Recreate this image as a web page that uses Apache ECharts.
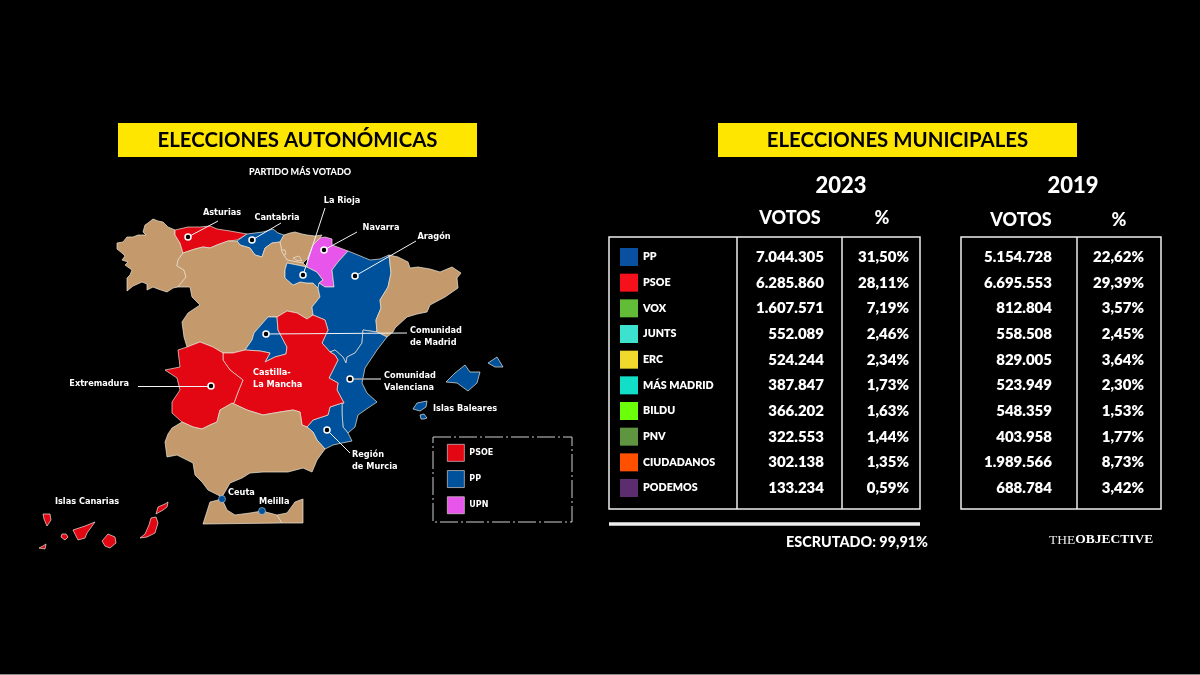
<!DOCTYPE html>
<html>
<head>
<meta charset="utf-8">
<title>Elecciones</title>
<style>html,body{margin:0;background:#000}#chart{width:1200px;height:675px}</style>
<script src="https://cdn.jsdelivr.net/npm/echarts@6/dist/echarts.min.js"></script>
</head>
<body>
<div id="chart"></div>
<script>
// tabla de resultados
const parties = ['PP', 'PSOE', 'VOX', 'JUNTS', 'ERC', 'MÁS MADRID', 'BILDU', 'PNV', 'CIUDADANOS', 'PODEMOS']
const partyColors = ['#0a50a0', '#f5101c', '#63bc37', '#3de2cf', '#f0d92c', '#12dfc8', '#6cff0a', '#5f9440', '#ff5000', '#5c2d6e']
const votes2023 = [7044305, 6285860, 1607571, 552089, 524244, 387847, 366202, 322553, 302138, 133234]
const pct2023 = [31.50, 28.11, 7.19, 2.46, 2.34, 1.73, 1.63, 1.44, 1.35, 0.59]
const votes2019 = [5154728, 6695553, 812804, 558508, 829005, 523949, 548359, 403958, 1989566, 688784]
const pct2019 = [22.62, 29.39, 3.57, 2.45, 3.64, 2.30, 1.53, 1.77, 8.73, 3.42]

// mapa: partido mas votado por territorio
const mapParties = ['PSOE', 'PP', 'UPN']
const mapColors = { PSOE: '#e30613', PP: '#00519b', UPN: '#e755eb', none: '#c49a6c' }

const galicia = [[175,230],[168,227],[163,222],[158,221],[153,219],[148,223],[145,225],[143,232],[146,235],[138,235],[133,237],[127,237],[123,242],[117,243],[117,249],[122,253],[125,256],[122,260],[128,262],[125,265],[132,270],[130,275],[127,278],[127,291],[133,286],[142,282],[147,284],[147,290],[153,287],[158,289],[167,292],[173,288],[178,287],[182,282],[186,277],[184,270],[177,266],[178,260],[183,253],[180,243],[175,235]]
const asturias = [[175,230],[188,227],[200,227],[210,226],[217,229],[230,231],[247,234],[237,240],[228,241],[217,245],[210,248],[203,247],[195,249],[183,253],[180,243],[175,235]]
const cantabria = [[247,234],[255,233],[263,232],[273,229],[278,233],[284,235],[280,242],[272,243],[265,248],[262,257],[255,255],[250,248],[240,245],[237,241]]
const paisVasco = [[284,235],[290,233],[295,232],[302,234],[307,235],[315,236],[322,235],[320,238],[313,245],[308,258],[303,263],[297,262],[287,260],[282,252],[280,242]]
const trevino = [[293,258],[299,256],[302,261],[296,260]]
const villaverde = [[281,250],[285,250],[286,254],[283,255]]
const castillaLeon = [[183,253],[195,249],[203,247],[210,248],[217,245],[228,241],[237,241],[240,245],[250,248],[255,255],[262,257],[265,248],[272,243],[280,242],[282,252],[287,260],[297,262],[303,263],[307,267],[297,265],[287,263],[285,270],[285,278],[293,285],[300,282],[307,283],[313,283],[318,288],[320,297],[312,307],[313,315],[307,319],[297,313],[287,311],[277,317],[268,317],[254,333],[252,340],[245,350],[233,353],[223,353],[213,347],[200,342],[187,347],[184,337],[182,322],[188,313],[200,305],[192,297],[190,287],[178,287],[182,282],[186,277],[184,270],[177,266],[178,260]]
const rioja = [[287,263],[297,265],[307,267],[317,272],[323,280],[319,283],[318,288],[313,283],[307,283],[300,282],[293,285],[285,278],[285,270]]
const navarra = [[325,237],[332,239],[332,245],[348,251],[338,262],[332,270],[334,287],[325,287],[319,283],[323,280],[317,272],[307,267],[308,258],[313,245],[320,238]]
const aragon = [[348,251],[358,255],[370,260],[380,259],[389,255],[391,273],[388,287],[380,300],[381,308],[376,320],[377,332],[363,330],[362,343],[355,353],[347,357],[346,363],[343,357],[335,350],[330,352],[322,343],[328,330],[325,320],[313,315],[312,307],[320,297],[318,288],[319,283],[325,287],[334,287],[332,270],[338,262]]
const cataluna = [[389,255],[398,257],[408,262],[410,268],[418,267],[430,269],[440,272],[452,267],[461,273],[457,278],[458,288],[445,297],[430,305],[427,312],[417,314],[407,317],[395,328],[393,332],[387,337],[377,332],[376,320],[381,308],[380,300],[388,287],[391,273]]
const valencia = [[377,332],[387,337],[377,350],[371,359],[365,368],[362,383],[367,393],[377,402],[368,408],[358,415],[355,427],[348,433],[343,427],[342,413],[342,403],[344,403],[337,390],[338,383],[329,378],[333,370],[338,360],[335,355],[330,352],[335,350],[343,357],[346,363],[347,357],[355,353],[362,343],[363,330]]
const murcia = [[307,427],[313,420],[328,415],[330,407],[342,403],[342,413],[343,427],[348,433],[352,441],[342,443],[333,445],[325,449],[317,440],[313,432]]
const madrid = [[268,317],[277,317],[278,330],[287,347],[286,354],[275,357],[265,362],[270,353],[260,351],[245,350],[252,340],[254,333]]
const castillaMancha = [[277,317],[287,311],[297,313],[307,319],[313,315],[325,320],[328,330],[322,343],[330,352],[335,355],[338,360],[333,370],[329,378],[338,383],[337,390],[344,403],[342,403],[330,407],[328,415],[313,420],[307,427],[302,425],[300,412],[293,410],[280,412],[263,415],[247,410],[232,403],[234,403],[238,392],[243,380],[230,370],[223,360],[223,353],[233,353],[245,350],[260,351],[270,353],[265,362],[275,357],[286,354],[287,347],[278,330]]
const extremadura = [[178,350],[187,347],[200,342],[213,347],[223,353],[223,360],[230,370],[243,380],[238,392],[234,403],[220,410],[217,422],[210,425],[202,429],[193,427],[182,422],[172,413],[172,402],[180,390],[177,378],[165,370],[180,367]]
const andalucia = [[165,442],[168,434],[172,428],[182,422],[193,427],[202,429],[210,425],[217,422],[220,410],[232,403],[247,410],[263,415],[280,412],[293,410],[300,412],[302,425],[307,427],[313,432],[317,440],[325,449],[317,460],[312,472],[303,468],[288,472],[263,472],[250,473],[242,478],[230,483],[222,497],[208,490],[202,482],[195,475],[193,463],[177,455],[167,457]]
const marruecos = [[203,524],[210,502],[222,499],[227,510],[235,515],[250,513],[262,511],[277,515],[282,523]]
const argelia = [[277,515],[287,513],[295,502],[303,499],[303,523],[282,523]]
const mallorca = [[465,365],[470,372],[480,372],[477,383],[468,391],[457,383],[446,382],[455,373]]
const menorca = [[488,363],[497,357],[503,367],[495,367]]
const ibiza = [[413,409],[417,403],[427,401],[426,407],[420,411]]
const formentera = [[420,415],[424,414],[427,418],[424,419],[421,419]]
const lanzarote = [[168,502],[167,507],[163,510],[156,514],[158,507],[165,504]]
const fuerteventura = [[156,517],[158,523],[155,533],[147,537],[140,538],[145,534],[149,525],[151,518]]
const granCanaria = [[108,534],[115,537],[116,543],[110,548],[105,546],[102,541]]
const tenerife = [[95,522],[85,526],[73,530],[78,540],[85,538],[87,533]]
const gomera = [[62,534],[66,534],[68,537],[65,540],[61,537]]
const laPalma = [[43,514],[50,514],[51,520],[47,526],[44,519]]
const hierro = [[46,544],[45,549],[39,548],[43,546]]

const regionShapes = [
    ['Galicia', 'none', galicia], ['Asturias', 'PSOE', asturias], ['Cantabria', 'PP', cantabria],
    ['País Vasco', 'none', paisVasco], ['Treviño', 'none', trevino], ['Villaverde', 'none', villaverde], ['Castilla y León', 'none', castillaLeon],
    ['La Rioja', 'PP', rioja], ['Navarra', 'UPN', navarra], ['Aragón', 'PP', aragon], ['Cataluña', 'none', cataluna],
    ['Valencia', 'PP', valencia], ['Murcia', 'PP', murcia], ['Madrid', 'PP', madrid],
    ['Castilla-La Mancha', 'PSOE', castillaMancha], ['Extremadura', 'PSOE', extremadura], ['Andalucía', 'none', andalucia],
    ['Marruecos', 'none', marruecos], ['Argelia', 'none', argelia],
    ['Mallorca', 'PP', mallorca], ['Menorca', 'PP', menorca], ['Ibiza', 'PP', ibiza], ['Formentera', 'PP', formentera],
    ['Lanzarote', 'PSOE', lanzarote], ['Fuerteventura', 'PSOE', fuerteventura], ['Gran Canaria', 'PSOE', granCanaria],
    ['Tenerife', 'PSOE', tenerife], ['La Gomera', 'PSOE', gomera], ['La Palma', 'PSOE', laPalma], ['El Hierro', 'PSOE', hierro]
]

// rotulos del mapa: texto, ancla, alineacion
const mapLabels = [
    ['Asturias', 222, 213, 'center'], ['Cantabria', 277, 218, 'center'], ['La Rioja', 342, 201, 'center'],
    ['Navarra', 381, 228, 'center'], ['Aragón', 434, 237, 'center'], ['Comunidad\nde Madrid', 410, 337, 'left'],
    ['Extremadura', 129, 384, 'right'], ['Comunidad\nValenciana', 384, 382, 'left'], ['Región\nde Murcia', 352, 461, 'left'],
    ['Islas Baleares', 433, 409, 'left'], ['Islas Canarias', 87, 502, 'center'], ['Ceuta', 228, 493, 'left'],
    ['Melilla', 259, 502, 'left'], ['Castilla-\nLa Mancha', 253, 379, 'left']
]
const leaderDots = [[188,237],[252,240],[303,275],[324,250],[355,276],[266,334],[211,386],[350,379],[327,430]]
const leaderEnds = [[218,221],[281,223],[325,208],[357,232],[416,241],[407,333],[138,386],[381,379],[350,453]]
const cityDots = [[222,499],[262,511]]

const bounds = regionShapes.reduce((b, r) => {
    r[2].forEach(p => {
        b.x0 = Math.min(b.x0, p[0]); b.x1 = Math.max(b.x1, p[0])
        b.y0 = Math.min(b.y0, p[1]); b.y1 = Math.max(b.y1, p[1])
    })
    return b
}, { x0: 9999, x1: 0, y0: 9999, y1: 0 })

echarts.registerMap('espana', {
    type: 'FeatureCollection',
    features: regionShapes.map(r => ({
        type: 'Feature',
        properties: { name: r[0] },
        geometry: { type: 'Polygon', coordinates: [r[2].concat([r[2][0]])] }
    }))
})

const FONT = 'Lato'
const LABEL_FONT = 'DejaVu Sans'
const formatVotes = n => String(n).replace(/\B(?=(\d{3})+$)/g, '.')
const formatPct = n => n.toFixed(2).replace('.', ',') + '%'

// columna de texto alineada a la derecha sobre el eje de filas
const textColumn = (x, texts, size) => ({
    type: 'scatter',
    symbolSize: 0,
    silent: true,
    itemStyle: { opacity: 1 },
    data: texts.map((t, i) => [x, i, t]),
    label: {
        show: true,
        position: 'left',
        distance: 0,
        color: '#fff',
        fontFamily: FONT,
        fontWeight: 800,
        fontSize: size,
        formatter: p => p.value[2]
    }
})

const banner = (x, text) => [
    { type: 'rect', shape: { x: x, y: 123, width: 359, height: 34 }, style: { fill: '#ffe600' } },
    { type: 'text', x: x + 179.5, y: 140, style: { text: text, fill: '#000', font: '700 20.4px ' + FONT, textAlign: 'center', textVerticalAlign: 'middle' } }
]
const heading = (x, y, text, size) => ({
    type: 'text',
    x: x, y: y,
    style: { text: text, fill: '#fff', font: '900 ' + size + 'px ' + FONT, textAlign: 'center', textVerticalAlign: 'middle' }
})
const frameLine = (x1, y1, x2, y2, w) => ({
    type: 'line',
    shape: { x1: x1, y1: y1, x2: x2, y2: y2 },
    style: { stroke: '#eee', lineWidth: w || 1.5 }
})
const frame = (x0, x1, dividers) => [
    { type: 'rect', shape: { x: x0, y: 237, width: x1 - x0, height: 272 }, style: { fill: 'none', stroke: '#eee', lineWidth: 1.5 } }
].concat(dividers.map(d => frameLine(d, 237, d, 509)))

const option = {
    backgroundColor: '#000',
    animation: false,
    legend: {
        left: 447,
        top: 444,
        padding: 0,
        orient: 'vertical',
        itemWidth: 17,
        itemHeight: 17,
        itemGap: 8.5,
        icon: 'rect',
        selectedMode: false,
        data: mapParties,
        itemStyle: { borderColor: '#d8c8c8', borderWidth: 0.7 },
        textStyle: { color: '#fff', fontFamily: LABEL_FONT, fontWeight: 'bold', fontSize: 8 }
    },
    geo: {
        map: 'espana',
        roam: false,
        silent: true,
        left: bounds.x0,
        top: bounds.y0,
        width: bounds.x1 - bounds.x0,
        height: bounds.y1 - bounds.y0,
        projection: { project: p => p, unproject: p => p },
        label: { show: false },
        itemStyle: { areaColor: mapColors.none, borderColor: '#eee6da', borderWidth: 0.7 },
        regions: regionShapes.map(r => ({ name: r[0], itemStyle: { areaColor: mapColors[r[1]] } }))
    },
    grid: { left: 0, right: 0, top: 244.17, height: 256.67 },
    xAxis: { type: 'value', min: 0, max: 1200, show: false },
    yAxis: { type: 'category', data: parties, inverse: true, show: false },
    series: [
        ...mapParties.map(name => ({ type: 'scatter', name: name, data: [], itemStyle: { color: mapColors[name], opacity: 1 } })),
        {
            // leyenda de la tabla
            type: 'scatter',
            symbol: 'rect',
            symbolSize: 18,
            silent: true,
            data: parties.map((name, i) => ({ value: [629, i], name: name, itemStyle: { color: partyColors[i], opacity: 1 } })),
            label: {
                show: true,
                position: 'right',
                distance: 5,
                color: '#fff',
                fontFamily: FONT,
                fontWeight: 800,
                fontSize: 10.7,
                formatter: p => p.name
            }
        },
        textColumn(824, votes2023.map(formatVotes), 15),
        textColumn(909, pct2023.map(formatPct), 15),
        textColumn(1052, votes2019.map(formatVotes), 15),
        textColumn(1144, pct2019.map(formatPct), 15),
        {
            type: 'lines',
            coordinateSystem: 'geo',
            silent: true,
            polyline: false,
            lineStyle: { color: '#f4f4f4', width: 1, opacity: 1, curveness: 0 },
            data: leaderDots.map((p, i) => ({
                coords: [p, leaderEnds[i]],
                lineStyle: i === 7 ? { color: '#a8a8a8', width: 1.5 } : undefined
            }))
        },
        {
            type: 'scatter',
            coordinateSystem: 'geo',
            symbolSize: 6,
            silent: true,
            itemStyle: { color: '#000', borderColor: '#fff', borderWidth: 1.5, opacity: 1 },
            data: leaderDots
        },
        {
            type: 'scatter',
            coordinateSystem: 'geo',
            symbolSize: 7,
            silent: true,
            itemStyle: { color: mapColors.PP, borderColor: '#dfe6ee', borderWidth: 0.5, opacity: 1 },
            data: cityDots
        },
        {
            type: 'scatter',
            coordinateSystem: 'geo',
            symbolSize: 0,
            silent: true,
            z: 5,
            itemStyle: { opacity: 1 },
            data: mapLabels.map(l => ({
                value: [l[1], l[2]],
                name: l[0],
                label: {
                    show: true,
                    formatter: p => p.name,
                    position: 'inside',
                    align: l[3],
                    verticalAlign: 'middle',
                    color: '#fff',
                    fontFamily: LABEL_FONT,
                    fontWeight: 'bold',
                    fontSize: 8.2,
                    lineHeight: 12
                }
            }))
        }
    ],
    graphic: [
        ...banner(118, 'ELECCIONES AUTONÓMICAS'),
        ...banner(718, 'ELECCIONES MUNICIPALES'),
        heading(300, 172, 'PARTIDO MÁS VOTADO', 9),
        heading(841, 186, '2023', 22),
        heading(1073, 186, '2019', 22),
        heading(790, 218, 'VOTOS', 18),
        heading(882, 218, '%', 18),
        heading(1021, 220, 'VOTOS', 18),
        heading(1119, 220, '%', 18),
        ...frame(609, 920, [737, 842]),
        ...frame(961, 1161, [1077]),
        frameLine(609, 524, 920, 524, 3.5),
        {
            type: 'text',
            x: 928, y: 542,
            style: { text: 'ESCRUTADO: 99,91%', fill: '#fff', font: '900 14.4px ' + FONT, textAlign: 'right', textVerticalAlign: 'middle' }
        },
        {
            type: 'text',
            x: 1049, y: 540,
            style: {
                text: '{a|THE}{b|OBJECTIVE}',
                textVerticalAlign: 'middle',
                rich: {
                    a: { fill: '#e8e8e8', font: '400 13.5px "Liberation Serif"' },
                    b: { fill: '#fff', font: '700 13.5px "Liberation Serif"' }
                }
            }
        },
        {
            type: 'rect',
            shape: { x: 433, y: 437, width: 139, height: 85 },
            style: { fill: 'none', stroke: '#cfcfcf', lineWidth: 1, lineDash: [18, 3, 2, 3] }
        },
        { type: 'rect', shape: { x: 0, y: 674, width: 1200, height: 1 }, style: { fill: '#8a8a8a' } }
    ]
}

const chart = echarts.init(document.getElementById('chart'), null, { renderer: 'canvas' })
chart.setOption(option)
</script>
</body>
</html>
